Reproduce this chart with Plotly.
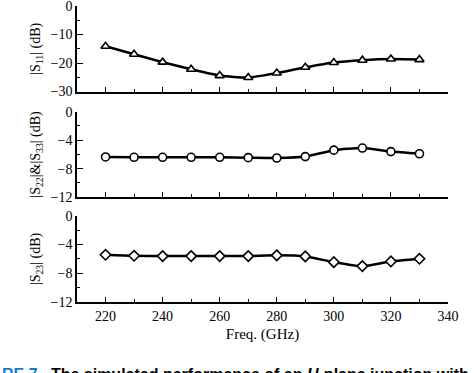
import plotly.graph_objects as go
from plotly.subplots import make_subplots

freq = [220, 230, 240, 250, 260, 270, 280, 290, 300, 310, 320, 330]
s11 = [-14.1, -16.9, -19.7, -22.2, -24.4, -25.1, -23.5, -21.5, -19.8, -19.0, -18.6, -18.8]
s22_s33 = [-6.35, -6.4, -6.4, -6.4, -6.4, -6.45, -6.5, -6.3, -5.4, -5.1, -5.6, -5.9]
s23 = [-5.42, -5.56, -5.6, -5.6, -5.6, -5.6, -5.5, -5.65, -6.45, -7.0, -6.35, -5.98]

x_ticks = [220, 240, 260, 280, 300, 320, 340]
y1_ticks = [0, -10, -20, -30]
y2_ticks = [0, -4, -8, -12]

SERIF = "Liberation Serif"

fig = make_subplots(rows=3, cols=1, shared_xaxes=False, vertical_spacing=0.06)

series = [
    (s11, "triangle-up", 1),
    (s22_s33, "circle", 2),
    (s23, "diamond", 3),
]
for vals, sym, r in series:
    fig.add_trace(go.Scatter(
        x=freq, y=vals, mode="lines+markers",
        line=dict(color="black", width=2.5, shape="spline", smoothing=0.6),
        marker=dict(symbol=sym, size=8, color="white", line=dict(color="black", width=1.6)),
        showlegend=False), row=r, col=1)

domains = [[0.711, 1.0], [0.354, 0.643], [0.0, 0.291]]
titles = ["|S<sub>11</sub>| (dB)", "|S<sub>22</sub>|&|S<sub>33</sub>| (dB)", "|S<sub>23</sub>| (dB)"]
for i in range(3):
    xa = "xaxis" if i == 0 else f"xaxis{i+1}"
    ya = "yaxis" if i == 0 else f"yaxis{i+1}"
    fig.layout[xa].update(
        range=[210, 340], tickvals=x_ticks, showticklabels=(i == 2), automargin=False,
        ticks="inside", ticklen=5, tickwidth=1.3, tickcolor="black",
        minor=dict(dtick=10, tick0=210, ticks="inside", ticklen=3, tickwidth=1.3, tickcolor="black"),
        showline=True, linecolor="black", linewidth=1.5, showgrid=False, zeroline=False,
        tickfont=dict(family=SERIF, size=14, color="black"), ticklabeloverflow="allow",
    )
    ticks = y1_ticks if i == 0 else y2_ticks
    mdt = 5 if i == 0 else 2
    fig.layout[ya].update(
        domain=domains[i], range=[ticks[-1], 0], tickvals=ticks, automargin=False,
        ticks="inside", ticklen=6, tickwidth=1.3, tickcolor="black",
        minor=dict(dtick=mdt, tick0=0, ticks="inside", ticklen=3, tickwidth=1.3, tickcolor="black"),
        showline=True, linecolor="black", linewidth=1.5, showgrid=False, zeroline=False,
        tickfont=dict(family=SERIF, size=14, color="black"), ticklabeloverflow="allow",
        title=dict(text=titles[i], font=dict(family=SERIF, size=14, color="black"), standoff=7),
    )

fig.layout.xaxis3.title = dict(text="Freq. (GHz)", font=dict(family=SERIF, size=15, color="black"), standoff=6)

fig.add_annotation(
    x=-0.208, y=-0.208, xref="paper", yref="paper", xanchor="left", yanchor="top",
    text="<b><span style='color:#1a7bc4'>RE 7.</span>  The simulated performance of an <i>H</i>-plane junction with</b>",
    showarrow=False, font=dict(family="Liberation Sans", size=16, color="black"),
)

fig.update_layout(
    width=474, height=373,
    margin=dict(l=77, r=26, t=6, b=71),
    plot_bgcolor="white", paper_bgcolor="white",
)

fig.write_html("out.html", config={"displayModeBar": False},
               post_script="document.body.style.margin='0';document.body.style.overflow='hidden';")
